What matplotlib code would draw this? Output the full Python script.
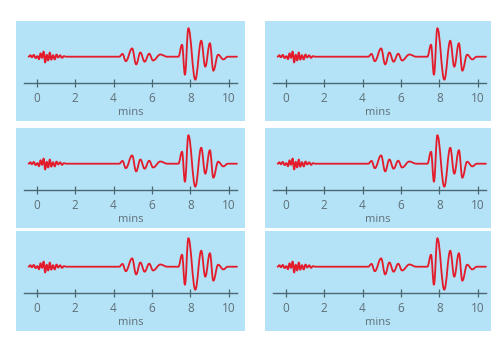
import matplotlib
matplotlib.use("Agg")
import matplotlib.pyplot as plt
from matplotlib.path import Path
from matplotlib.patches import PathPatch

# ---- data (time in minutes, amplitude in trace units) ----
p_times = [-0.42, -0.33, -0.25, -0.15, -0.06, 0.04, 0.12, 0.20, 0.28, 0.36, 0.44,
           0.52, 0.60, 0.68, 0.76, 0.85, 0.94, 1.03, 1.12, 1.22, 1.32, 1.42, 1.52]
p_amps = [0, 1.5, -0.6, 1.8, -1.4, 0.6, -2.6, 3.4, -1.2, 5.2, -5.8,
          2.0, -3.8, 4.2, -3.0, 1.6, -2.8, 2.2, -0.8, 1.4, -1.2, 0.6, 0]

s_times = [4.30, 4.47, 4.64, 4.97, 5.18, 5.40, 5.62, 5.86, 6.06, 6.44, 6.80]
s_amps = [0, 2.8, -4.5, 8.3, -7.7, 4.2, -5.0, 3.0, -3.8, 2.2, 0]

l_times = [7.38, 7.57, 7.72, 7.90, 8.26, 8.57, 8.78, 9.02, 9.20, 9.45, 9.72, 9.95]
l_amps = [0, 12.0, -18.0, 28.5, -23.0, 16.0, -10.0, 13.5, -14.0, 2.0, -2.7, 0]

trace_end = 10.43
tick_values = [0, 2, 4, 6, 8, 10]
tick_labels = ["0", "2", "4", "6", "8", "10"]
x_label = "mins"

# ---- style ----
FIG_W, FIG_H = 500, 354
panel_color = "#b4e2f6"
trace_color = "#e31b2a"
axis_color = "#4b6772"
label_color = "#5f6f77"

cols = [(16, 229), (265, 226)]
rows = [(21, 100), (128, 100), (231, 100)]
PX_PER_MIN = 19.2
ZERO_OFFSET = 20.7
BASE_FROM_TOP = 35.7
AXIS_BELOW_BASE = 26.3


def wave_path(times, amps, k=0.38):
    verts = [(times[0], amps[0])]
    codes = [Path.MOVETO]
    for (t0, a0), (t1, a1) in zip(zip(times[:-1], amps[:-1]), zip(times[1:], amps[1:])):
        d = t1 - t0
        verts += [(t0 + d * k, a0), (t1 - d * k, a1), (t1, a1)]
        codes += [Path.CURVE4] * 3
    return verts, codes


all_times = p_times + s_times + l_times + [trace_end]
all_amps = p_amps + s_amps + l_amps + [0]

fig = plt.figure(figsize=(FIG_W / 100, FIG_H / 100), dpi=100)
fig.patch.set_facecolor("white")

for (ry, rh) in rows:
    for (cx, cw) in cols:
        ax = fig.add_axes([cx / FIG_W, (FIG_H - ry - rh) / FIG_H, cw / FIG_W, rh / FIG_H])
        ax.set_facecolor(panel_color)
        xmin = -ZERO_OFFSET / PX_PER_MIN
        ax.set_xlim(xmin, xmin + cw / PX_PER_MIN)
        ax.set_ylim(BASE_FROM_TOP - rh, BASE_FROM_TOP)
        for s in ["top", "left", "right"]:
            ax.spines[s].set_visible(False)
        sp = ax.spines["bottom"]
        sp.set_position(("data", -AXIS_BELOW_BASE))
        sp.set_bounds(-0.65, 10.45)
        sp.set_color(axis_color)
        sp.set_linewidth(1.0)
        ax.set_yticks([])
        ax.set_xticks(tick_values)
        ax.set_xticklabels(tick_labels)
        ax.tick_params(axis="x", direction="inout", length=5.5, width=0.9,
                       color=axis_color, labelcolor=label_color, labelsize=8.5, pad=3.5)
        for lab in ax.get_xticklabels():
            lab.set_family("Open Sans")
        ax.set_xlabel(x_label, fontsize=8, color=label_color, family="Open Sans", labelpad=1.5)
        verts, codes = wave_path(all_times, all_amps)
        ax.add_patch(PathPatch(Path(verts, codes), facecolor="none",
                               edgecolor=trace_color, linewidth=1.3,
                               capstyle="round", joinstyle="round"))

fig.savefig("out.png", dpi=100, facecolor="white")
